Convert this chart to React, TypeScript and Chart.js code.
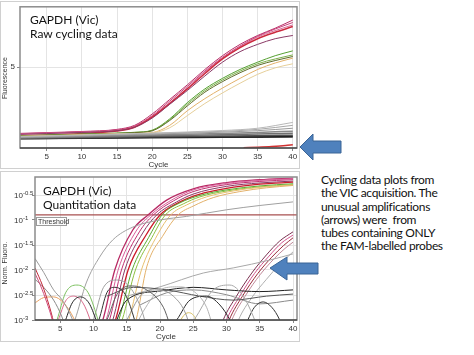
import React, { useEffect, useRef } from 'react';
import { Chart, registerables } from 'chart.js';

Chart.register(...registerables);

// ---------------- shared ----------------
const cycleTicks = [5, 10, 15, 20, 25, 30, 35, 40];

// ---------------- Raw cycling data (linear) ----------------
const rawYTicks = [5];
const rawCycles = [1, 5, 10, 15, 17.5, 20, 22.5, 25, 27.5, 30, 32.5, 35, 37.5, 40];
const rawPink1 = [0.9, 0.95, 1.02, 1.15, 1.4, 2.1, 3.0, 3.9, 4.85, 5.7, 6.4, 6.95, 7.4, 7.9];
const rawPink2 = [0.88, 0.93, 1.0, 1.12, 1.35, 2.0, 2.9, 3.8, 4.75, 5.6, 6.3, 6.9, 7.35, 7.75];
const rawPink3 = [0.86, 0.91, 0.98, 1.1, 1.32, 1.95, 2.8, 3.7, 4.7, 5.55, 6.25, 6.85, 7.25, 7.6];
const rawRed = [0.75, 0.8, 0.9, 1.05, 1.28, 1.9, 2.75, 3.65, 4.6, 5.5, 6.2, 6.75, 7.15, 7.5];
const rawPurple = [0.84, 0.89, 0.96, 1.07, 1.28, 1.85, 2.7, 3.55, 4.45, 5.3, 5.95, 6.4, 6.75, 6.95];
const rawGreen1 = [0.75, 0.8, 0.86, 0.92, 0.97, 1.1, 1.8, 2.8, 3.65, 4.3, 4.85, 5.3, 5.7, 6.0];
const rawGreen2 = [0.74, 0.79, 0.85, 0.91, 0.96, 1.08, 1.75, 2.7, 3.55, 4.2, 4.75, 5.2, 5.5, 5.75];
const rawOlive = [0.73, 0.78, 0.84, 0.9, 0.95, 1.06, 1.7, 2.6, 3.45, 4.1, 4.65, 5.1, 5.4, 5.65];
const rawTan1 = [0.72, 0.76, 0.82, 0.88, 0.9, 0.95, 1.4, 2.3, 3.05, 3.7, 4.3, 4.85, 5.25, 5.55];
const rawTan2 = [0.71, 0.75, 0.81, 0.87, 0.89, 0.93, 1.25, 2.0, 2.75, 3.4, 4.0, 4.55, 4.95, 5.2];

const baseCycles = [1, 10, 20, 30, 35, 40];
const rawGray1 = [0.7, 0.8, 0.92, 1.08, 1.22, 1.58];
const rawGray2 = [0.68, 0.78, 0.9, 1.03, 1.15, 1.4];
const rawGray3 = [0.66, 0.75, 0.86, 0.98, 1.07, 1.22];
const rawGray4 = [0.64, 0.72, 0.8, 0.9, 0.96, 1.04];
const rawGray5 = [0.62, 0.68, 0.75, 0.82, 0.86, 0.91];
const rawDark1 = [0.6, 0.64, 0.7, 0.74, 0.76, 0.79];
const rawBlack1 = [0.58, 0.62, 0.66, 0.69, 0.71, 0.73];
const rawBlack2 = [0.56, 0.6, 0.63, 0.65, 0.66, 0.67];

const lateCycles = [33, 35, 37, 39, 40];
const rawRedLow = [0.02, 0.05, 0.09, 0.15, 0.2];

// ---------------- Quantitation data (log) ----------------
type Pt = [number, number];
const qThreshold = 0.126;
const qYTicks = [0.001, 0.00316, 0.01, 0.0316, 0.1, 0.316];
const qYTickExps = ['-3', '-2.5', '-2', '-1.5', '-1', '-0.5'];

const qPink1: Pt[] = [[10, 0.0004], [11.4, 0.001], [13.2, 0.01], [15.9, 0.063], [18.2, 0.126], [21, 0.25], [25, 0.42], [30, 0.56], [35, 0.64], [40, 0.69]];
const qPink2: Pt[] = [[10.5, 0.0004], [11.9, 0.001], [13.7, 0.01], [16.4, 0.06], [18.6, 0.126], [21.5, 0.24], [25, 0.4], [30, 0.54], [35, 0.62], [40, 0.67]];
const qMagenta: Pt[] = [[11, 0.0004], [12.4, 0.001], [14.2, 0.01], [16.9, 0.058], [19, 0.126], [22, 0.24], [25, 0.37], [30, 0.51], [35, 0.59], [40, 0.64]];
const qPurple: Pt[] = [[11.5, 0.0004], [12.9, 0.001], [14.7, 0.01], [17.4, 0.055], [19.5, 0.126], [22.5, 0.23], [25, 0.33], [30, 0.47], [35, 0.55], [40, 0.6]];
const qRed: Pt[] = [[12, 0.0004], [13.3, 0.001], [15.2, 0.01], [17.9, 0.05], [20, 0.126], [23, 0.23], [26, 0.33], [30, 0.43], [35, 0.52], [40, 0.57]];
const qGreen1: Pt[] = [[12.5, 0.0004], [13.8, 0.001], [15.8, 0.01], [18.3, 0.045], [20.3, 0.126], [23, 0.22], [26, 0.31], [30, 0.4], [35, 0.48], [40, 0.53]];
const qGreen2: Pt[] = [[13, 0.0004], [14.3, 0.001], [16.3, 0.01], [18.8, 0.045], [20.8, 0.126], [23.5, 0.21], [26, 0.29], [30, 0.38], [35, 0.46], [40, 0.51]];
const qOrange: Pt[] = [[14, 0.0004], [15.3, 0.001], [17.2, 0.01], [19.6, 0.05], [21.6, 0.126], [24, 0.2], [27, 0.29], [31, 0.38], [35, 0.45], [40, 0.5]];
const qTan: Pt[] = [[15, 0.0004], [16.4, 0.001], [18, 0.0115], [20.5, 0.05], [22.7, 0.126], [25, 0.19], [28, 0.28], [32, 0.37], [36, 0.44], [40, 0.49]];
const qGrayRise: Pt[] = [[6.5, 0.0006], [7.2, 0.001], [8.9, 0.0055], [10.9, 0.018], [12.9, 0.04], [15.9, 0.072], [20, 0.1], [24, 0.118], [30, 0.16], [35, 0.195], [40, 0.23]];

const qLate1: Pt[] = [[28.5, 0.0004], [29.5, 0.001], [31.5, 0.003], [33.8, 0.0087], [36, 0.02], [38, 0.038], [40, 0.058]];
const qLate2: Pt[] = [[29, 0.0004], [30, 0.001], [32, 0.003], [34.2, 0.0085], [36.4, 0.019], [38.3, 0.035], [40, 0.05]];
const qLate3: Pt[] = [[29.4, 0.0004], [30.4, 0.001], [32.4, 0.003], [34.7, 0.0085], [36.8, 0.018], [38.6, 0.031], [40, 0.044]];
const qLate4: Pt[] = [[29.8, 0.0004], [30.8, 0.001], [32.8, 0.003], [35.1, 0.0082], [37.2, 0.017], [38.8, 0.027], [40, 0.036]];
const qLate5: Pt[] = [[30.8, 0.0004], [31.8, 0.001], [33.8, 0.0028], [36, 0.0065], [38, 0.013], [40, 0.023]];

const qNoise1: Pt[] = [[1.2, 0.017], [2.5, 0.009], [4, 0.004], [5.3, 0.0025], [6.5, 0.0013], [7.5, 0.0006]];
const qNoise2: Pt[] = [[1.2, 0.0085], [2, 0.005], [3, 0.0022], [3.8, 0.001], [4.3, 0.0005]];
const qNoise3: Pt[] = [[1.2, 0.011], [2.3, 0.005], [3.3, 0.002], [4, 0.0009], [4.4, 0.0005]];
const qNoise4: Pt[] = [[1.2, 0.0065], [2.5, 0.0045], [4, 0.0025], [5.2, 0.0012], [6, 0.0006]];
const qNoise5: Pt[] = [[1.2, 0.0022], [2.5, 0.0028], [4, 0.0029], [5.5, 0.0022], [7, 0.0011], [7.8, 0.0006]];
const qNoise6: Pt[] = [[5.2, 0.0006], [5.8, 0.001], [6.8, 0.0022], [8, 0.0029], [9.3, 0.0022], [10.4, 0.001], [11, 0.0006]];
const qNoise7: Pt[] = [[3.8, 0.0006], [4.5, 0.001], [5.8, 0.0035], [7.5, 0.005], [9.2, 0.0035], [10.5, 0.0012], [11, 0.0007]];
const qNoise8: Pt[] = [[4, 0.0006], [4.7, 0.001], [5.8, 0.0024], [7, 0.003], [8.4, 0.0022], [9.5, 0.001], [10, 0.0006]];
const qNoise9: Pt[] = [[9.3, 0.0006], [10, 0.001], [11.5, 0.0045], [13.5, 0.0063], [15.5, 0.0045], [17.3, 0.0015], [18, 0.0007]];
const qNoise10: Pt[] = [[10, 0.0006], [10.8, 0.001], [12, 0.0035], [13.2, 0.0045], [14.8, 0.0032], [16, 0.0012], [16.6, 0.0006]];
const qNoise11: Pt[] = [[11, 0.0006], [12, 0.001], [13.5, 0.0032], [15.5, 0.0048], [18, 0.004], [20.5, 0.0018], [21.5, 0.0008]];
const qNoise12: Pt[] = [[14, 0.0006], [15, 0.001], [17, 0.003], [19.5, 0.004], [22, 0.003], [24, 0.0012], [24.6, 0.0006]];
const qNoise13: Pt[] = [[16, 0.0006], [17.5, 0.0015], [20, 0.004], [22.5, 0.0046], [25, 0.0038], [27, 0.0018], [28, 0.0007]];
const qNoise14: Pt[] = [[21, 0.0006], [22.5, 0.001], [24.5, 0.0025], [27, 0.003], [29, 0.002], [30.5, 0.001], [31.2, 0.0006]];
const qNoise15: Pt[] = [[24, 0.0006], [25.5, 0.0012], [28, 0.004], [30.5, 0.005], [32.5, 0.003], [34, 0.0012], [34.8, 0.0006]];
const qNoise16: Pt[] = [[32.5, 0.0006], [33.2, 0.001], [34.2, 0.0018], [35.5, 0.0023], [36.8, 0.0018], [38, 0.001], [38.6, 0.0006]];
const qNoise17: Pt[] = [[22.5, 0.0006], [23.3, 0.0011], [24.3, 0.0014], [25.3, 0.0011], [26, 0.0006]];

const qFlat1: Pt[] = [[13, 0.0007], [15, 0.0025], [20, 0.0038], [25, 0.0045], [30, 0.004], [35, 0.0037], [40, 0.004]];
const qFlat2: Pt[] = [[12, 0.003], [16, 0.0045], [21, 0.004], [26, 0.003], [31, 0.0025], [36, 0.003], [40, 0.0033]];
const qFlat3: Pt[] = [[17, 0.002], [21, 0.0035], [25, 0.004], [30, 0.0032], [35, 0.0021], [40, 0.0025]];
const qFlat4: Pt[] = [[15, 0.003], [20, 0.0046], [26.5, 0.0087], [31, 0.011], [36.5, 0.0158], [40, 0.021]];

// ---------------- helpers ----------------
const FONT = '"Liberation Sans", Arial, sans-serif';

function fromXY(xs: number[], ys: number[]) {
  return xs.map((x, i) => ({ x, y: ys[i] }));
}
function fromPairs(p: Pt[]) {
  return p.map(([x, y]) => ({ x, y }));
}
function ds(data: any[], color: string, width = 1) {
  return {
    data,
    borderColor: color,
    borderWidth: width,
    pointRadius: 0,
    fill: false,
    tension: 0.4,
    cubicInterpolationMode: 'monotone',
    capBezierPoints: false,
  };
}

function xScale(height: number) {
  return {
    type: 'linear',
    min: 1.2,
    max: 40.6,
    afterBuildTicks: (s: any) => {
      s.ticks = cycleTicks.map((v) => ({ value: v }));
    },
    afterFit: (s: any) => {
      s.height = height;
    },
    ticks: { font: { size: 8, family: FONT }, color: '#333', maxRotation: 0, padding: 1 },
    grid: { color: '#e4e4e4', tickLength: 3, tickColor: '#888' },
    border: { display: false },
    title: { display: true, text: 'Cycle', font: { size: 8, family: FONT }, color: '#333', padding: 0 },
  };
}

function framePlugin(opts: { yTitle: string; yTitleX: number; yTitleY: number; threshold?: boolean; logLabels?: boolean }) {
  return {
    id: 'frame' + opts.yTitle.replace(/\W/g, ''),
    afterDraw(chart: any) {
      const { ctx, chartArea: a } = chart;
      ctx.save();
      ctx.strokeStyle = '#8c8c8c';
      ctx.lineWidth = 1.5;
      ctx.strokeRect(a.left, a.top, a.right - a.left, a.bottom - a.top);
      ctx.strokeStyle = '#222';
      ctx.lineWidth = 1.2;
      ctx.beginPath();
      ctx.moveTo(a.left, a.bottom);
      ctx.lineTo(a.right, a.bottom);
      ctx.stroke();
      ctx.translate(opts.yTitleX, opts.yTitleY);
      ctx.rotate(-Math.PI / 2);
      ctx.fillStyle = '#333';
      ctx.font = '7px ' + FONT;
      ctx.textAlign = 'center';
      ctx.textBaseline = 'middle';
      ctx.fillText(opts.yTitle, 0, 0);
      ctx.restore();

      if (opts.logLabels) {
        const y = chart.scales.y;
        ctx.save();
        ctx.fillStyle = '#333';
        qYTicks.forEach((v, i) => {
          const py = y.getPixelForValue(v);
          ctx.font = '8px ' + FONT;
          ctx.textAlign = 'right';
          ctx.textBaseline = 'middle';
          ctx.fillText('10', 23, py + 1);
          ctx.font = '6px ' + FONT;
          ctx.textAlign = 'left';
          ctx.fillText(qYTickExps[i], 23, py - 2);
        });
        ctx.restore();
      }
      if (opts.threshold) {
        const y = chart.scales.y;
        const py = y.getPixelForValue(qThreshold);
        ctx.save();
        ctx.fillStyle = '#fff';
        ctx.strokeStyle = '#999';
        ctx.lineWidth = 1;
        ctx.fillRect(a.left + 1.5, py + 2.5, 30, 8);
        ctx.strokeRect(a.left + 1.5, py + 2.5, 30, 8);
        ctx.fillStyle = '#333';
        ctx.font = '7px ' + FONT;
        ctx.textBaseline = 'middle';
        ctx.textAlign = 'left';
        ctx.fillText('Threshold', a.left + 3, py + 6.8);
        ctx.restore();
      }
    },
  };
}

function RawChart() {
  const ref = useRef<HTMLCanvasElement>(null);
  useEffect(() => {
    const datasets: any[] = [
      ds(fromXY(baseCycles, rawGray1), '#b8b8b8'),
      ds(fromXY(baseCycles, rawGray2), '#a8a8a8'),
      ds(fromXY(baseCycles, rawGray3), '#9a9a9a'),
      ds(fromXY(baseCycles, rawGray4), '#888888', 1.5),
      ds(fromXY(baseCycles, rawGray5), '#707070', 1.5),
      ds(fromXY(baseCycles, rawDark1), '#505050', 1.5),
      ds(fromXY(baseCycles, rawBlack1), '#222222', 1.5),
      ds(fromXY(baseCycles, rawBlack2), '#333333', 1.2),
      ds(fromXY(lateCycles, rawRedLow), '#d03030', 1.5),
      ds(fromXY(rawCycles, rawTan2), '#e6cf9a'),
      ds(fromXY(rawCycles, rawTan1), '#e3b16a'),
      ds(fromXY(rawCycles, rawOlive), '#5f6b2a'),
      ds(fromXY(rawCycles, rawGreen2), '#7bb04a'),
      ds(fromXY(rawCycles, rawGreen1), '#56a032'),
      ds(fromXY(rawCycles, rawPurple), '#8a3a66'),
      ds(fromXY(rawCycles, rawRed), '#cc2a3e', 1.5),
      ds(fromXY(rawCycles, rawPink3), '#d86a96'),
      ds(fromXY(rawCycles, rawPink2), '#c8407a'),
      ds(fromXY(rawCycles, rawPink1), '#b83068'),
    ];
    const chart = new Chart(ref.current!, {
      type: 'line',
      data: { datasets },
      options: {
        responsive: false,
        animation: false,
        events: [],
        layout: { padding: { top: 5, right: 3, left: 0, bottom: 0 }, autoPadding: false },
        plugins: { legend: { display: false }, tooltip: { enabled: false } },
        scales: {
          x: xScale(22),
          y: {
            type: 'linear',
            min: 0,
            max: 8.72,
            afterBuildTicks: (s: any) => {
              s.ticks = rawYTicks.map((v) => ({ value: v }));
            },
            afterFit: (s: any) => {
              s.width = 20;
            },
            ticks: { font: { size: 8, family: FONT }, color: '#333', padding: 2 },
            grid: { color: '#e4e4e4', tickLength: 3, tickColor: '#888' },
            border: { display: false },
          },
        },
      } as any,
      plugins: [framePlugin({ yTitle: 'Fluorescence', yTitleX: 5, yTitleY: 78 })],
    });
    return () => chart.destroy();
  }, []);
  return <canvas ref={ref} width={300} height={170} style={{ position: 'absolute', left: 0, top: 0, width: 300, height: 170 }} />;
}

function QuantChart() {
  const ref = useRef<HTMLCanvasElement>(null);
  useEffect(() => {
    const datasets: any[] = [
      ds(fromPairs(qNoise1), '#9a9a9a'),
      ds(fromPairs(qNoise2), '#d04a7a'),
      ds(fromPairs(qNoise3), '#c02838'),
      ds(fromPairs(qNoise4), '#8a8a8a'),
      ds(fromPairs(qNoise5), '#e8a060'),
      ds(fromPairs(qNoise6), '#222222'),
      ds(fromPairs(qNoise7), '#7cc060'),
      ds(fromPairs(qNoise8), '#d86a8a'),
      ds(fromPairs(qNoise9), '#a0a0a0'),
      ds(fromPairs(qNoise10), '#333333'),
      ds(fromPairs(qNoise11), '#606060'),
      ds(fromPairs(qNoise12), '#9a9a9a'),
      ds(fromPairs(qNoise13), '#b4b4b4'),
      ds(fromPairs(qNoise14), '#2a2a2a'),
      ds(fromPairs(qNoise15), '#a8a8a8'),
      ds(fromPairs(qNoise16), '#333333'),
      ds(fromPairs(qNoise17), '#d8c060'),
      ds(fromPairs(qFlat1), '#222222'),
      ds(fromPairs(qFlat2), '#555555'),
      ds(fromPairs(qFlat3), '#8a8a8a'),
      ds(fromPairs(qFlat4), '#a8a8a8'),
      ds(fromPairs(qGrayRise), '#a0a0a0'),
      ds(fromPairs(qLate5), '#b0b0b0'),
      ds(fromPairs(qLate4), '#c08a9a'),
      ds(fromPairs(qLate3), '#9a2a3a'),
      ds(fromPairs(qLate2), '#d0508a'),
      ds(fromPairs(qLate1), '#7a3050'),
      ds(fromPairs(qTan), '#e3b16a'),
      ds(fromPairs(qOrange), '#e8c070'),
      ds(fromPairs(qGreen2), '#8cc040'),
      ds(fromPairs(qGreen1), '#5aa832'),
      ds(fromPairs(qRed), '#cc1a2a', 1.3),
      ds(fromPairs(qPurple), '#8a3a66'),
      ds(fromPairs(qMagenta), '#c03070'),
      ds(fromPairs(qPink2), '#d8609a'),
      ds(fromPairs(qPink1), '#b82a64', 1.3),
      {
        data: [{ x: 1.2, y: qThreshold }, { x: 40.6, y: qThreshold }],
        borderColor: '#a85050',
        borderWidth: 1.2,
        pointRadius: 0,
        fill: false,
      },
    ];
    const chart = new Chart(ref.current!, {
      type: 'line',
      data: { datasets },
      options: {
        responsive: false,
        animation: false,
        events: [],
        layout: { padding: { top: 7, right: 3, left: 0, bottom: 0 }, autoPadding: false },
        plugins: { legend: { display: false }, tooltip: { enabled: false } },
        scales: {
          x: xScale(22),
          y: {
            type: 'logarithmic',
            min: 0.001,
            max: 0.724,
            afterBuildTicks: (s: any) => {
              s.ticks = qYTicks.map((v) => ({ value: v }));
            },
            afterFit: (s: any) => {
              s.width = 35;
            },
            ticks: { display: false },
            grid: { color: '#e4e4e4', tickLength: 3, tickColor: '#888' },
            border: { display: false },
          },
        },
      } as any,
      plugins: [framePlugin({ yTitle: 'Norm. Fluoro.', yTitleX: 5, yTitleY: 93, threshold: true, logLabels: true })],
    });
    return () => chart.destroy();
  }, []);
  return <canvas ref={ref} width={300} height={172} style={{ position: 'absolute', left: 0, top: 170, width: 300, height: 172 }} />;
}

const titleFont = 'Lato, "Open Sans", sans-serif';

export default function App() {
  const txt = (s: React.CSSProperties) => ({
    position: 'absolute' as const,
    fontFamily: titleFont,
    color: '#111',
    whiteSpace: 'pre' as const,
    ...s,
  });
  return (
    <div style={{ position: 'absolute', left: 0, top: 0, width: 474, height: 355, background: '#fff', overflow: 'hidden' }}>
      <div style={{ position: 'absolute', left: 0, top: 1, width: 298, height: 166, border: '1px solid #d0d0d0' }} />
      <div style={{ position: 'absolute', left: 0, top: 171, width: 298, height: 169, border: '1px solid #d0d0d0' }} />
      <RawChart />
      <QuantChart />
      <div style={txt({ left: 30, top: 13, fontSize: 12, lineHeight: '14px' })}>{'GAPDH (Vic)\nRaw cycling data'}</div>
      <div style={txt({ left: 43, top: 184, fontSize: 12, lineHeight: '14px' })}>{'GAPDH (Vic)\nQuantitation data'}</div>
      <div style={txt({ left: 321, top: 173, fontSize: 12, lineHeight: '13.3px', letterSpacing: '-0.35px' })}>
        {'Cycling data plots from\nthe VIC acquisition. The\nunusual amplifications\n(arrows) were  from\ntubes containing ONLY\nthe FAM-labelled probes'}
      </div>
      <svg width={474} height={355} style={{ position: 'absolute', left: 0, top: 0, pointerEvents: 'none' }}>
        <polygon points="300,147 313,134 313,141 341,141 341,153 313,153 313,160" fill="#4f81bd" stroke="#3a6496" strokeWidth={1} />
        <polygon points="270,268 287,257 287,263 318,263 318,274 287,274 287,280" fill="#4f81bd" stroke="#3a6496" strokeWidth={1} />
      </svg>
    </div>
  );
}
